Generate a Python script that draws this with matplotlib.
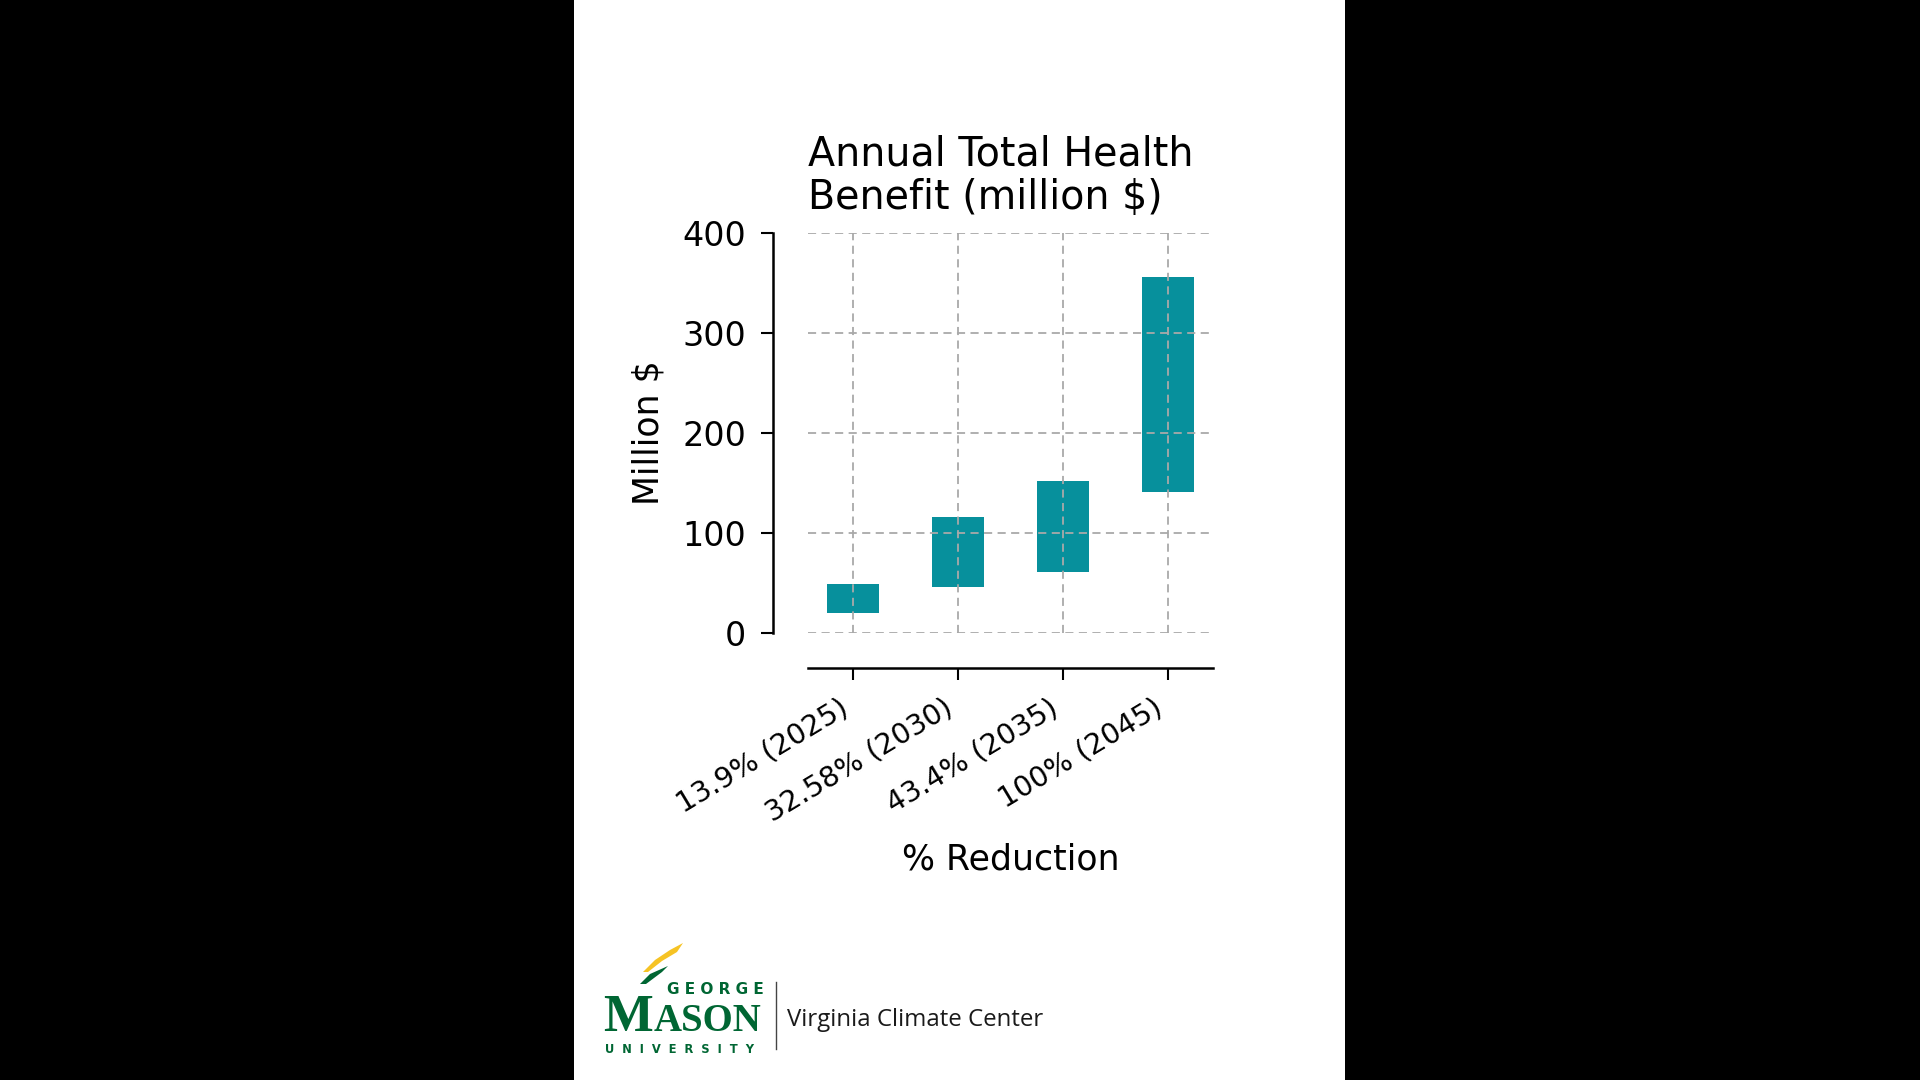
import matplotlib
matplotlib.use("Agg")
import matplotlib.pyplot as plt
from matplotlib.patches import Rectangle, Polygon
from matplotlib.lines import Line2D
import numpy as np

# ---- data ----
categories = ["13.9% (2025)", "32.58% (2030)", "43.4% (2035)", "100% (2045)"]
low_values = [20, 46, 61, 141]
high_values = [49, 116, 152, 356]
y_ticks = [0, 100, 200, 300, 400]

title_text = "Annual Total Health\nBenefit (million $)"
x_label = "% Reduction"
y_label = "Million $"

BAR_COLOR = "#07909c"
GREEN = "#006633"
GOLD = "#f6c324"

W, H = 1920, 1080
fig = plt.figure(figsize=(19.2, 10.8), dpi=100, facecolor="black")


def fx(px):
    return px / W


def fy(py):
    return (H - py) / H


# white panel
fig.add_artist(Rectangle((fx(574), 0), fx(1345) - fx(574), 1, transform=fig.transFigure,
                         facecolor="white", edgecolor="none", zorder=0))

ax = fig.add_axes([fx(808), fy(633), fx(1213) - fx(808), (633 - 232.6) / H])
ax.set_facecolor("white")

# spines first (set_position resets ticks)
for s in ["top", "right"]:
    ax.spines[s].set_visible(False)
for s in ["left", "bottom"]:
    ax.spines[s].set_position(("outward", 25))
    ax.spines[s].set_linewidth(1.8)

x = np.arange(len(categories))
heights = [h - l for h, l in zip(high_values, low_values)]
ax.bar(x, heights, bottom=low_values, width=0.5, color=BAR_COLOR, zorder=1)

ax.set_xlim(-0.43, 3.43)
ax.set_ylim(0, 400)
ax.tick_params(axis="y", labelsize=24, length=8.6, width=1.5, pad=11)
ax.tick_params(axis="x", labelsize=20.5, labelrotation=31, length=8.6, width=1.5, pad=10)
ax.set_yticks(y_ticks)
ax.set_xticks(x)
ax.set_xticklabels(categories, fontsize=20.5, rotation=31, ha="right", rotation_mode="default")

ax.grid(True, color="#a9a9a9", linestyle=(0, (4.5, 3)), linewidth=1.3, zorder=3)
ax.set_axisbelow(False)

ax.set_title(title_text, loc="left", fontsize=28.5, pad=17, linespacing=1.1)
ax.set_xlabel(x_label, fontsize=25, labelpad=11)
ax.set_ylabel(y_label, fontsize=25, labelpad=12)

# ---- logo ----
fig.add_artist(Polygon([(fx(643), fy(972)), (fx(655), fy(960)), (fx(670), fy(950)),
                        (fx(683), fy(943)), (fx(677), fy(952)), (fx(662), fy(961)),
                        (fx(648), fy(972))], closed=True, transform=fig.transFigure,
                       facecolor=GOLD, edgecolor="none"))
fig.add_artist(Polygon([(fx(640), fy(984)), (fx(650), fy(974)), (fx(668), fy(966)),
                        (fx(662), fy(972)), (fx(646), fy(984))], closed=True,
                       transform=fig.transFigure, facecolor=GREEN, edgecolor="none"))

fig.text(fx(603), fy(1031), "M", fontsize=38, fontweight="bold", family="Liberation Serif",
         color=GREEN, ha="left", va="baseline")
fig.text(fx(761), fy(1031), "ASON", fontsize=28, fontweight="bold", family="Liberation Serif",
         color=GREEN, ha="right", va="baseline")
fig.text(fx(667), fy(994), "G E O R G E", fontsize=11, fontweight="bold",
         family="DejaVu Sans", color=GREEN, ha="left", va="baseline")
fig.text(fx(605), fy(1053), "U  N  I  V  E  R  S  I  T  Y", fontsize=8.3, fontweight="bold",
         family="DejaVu Sans", color=GREEN, ha="left", va="baseline")

fig.add_artist(Line2D([fx(775.7), fx(775.7)], [fy(1049), fy(981.7)], transform=fig.transFigure,
                      color="#444444", linewidth=1.0))
fig.text(fx(787), fy(1026), "Virginia Climate Center", fontsize=17.3, family="Open Sans",
         color="#1a1a1a", ha="left", va="baseline")

fig.savefig("out.png", dpi=100, facecolor="black")
